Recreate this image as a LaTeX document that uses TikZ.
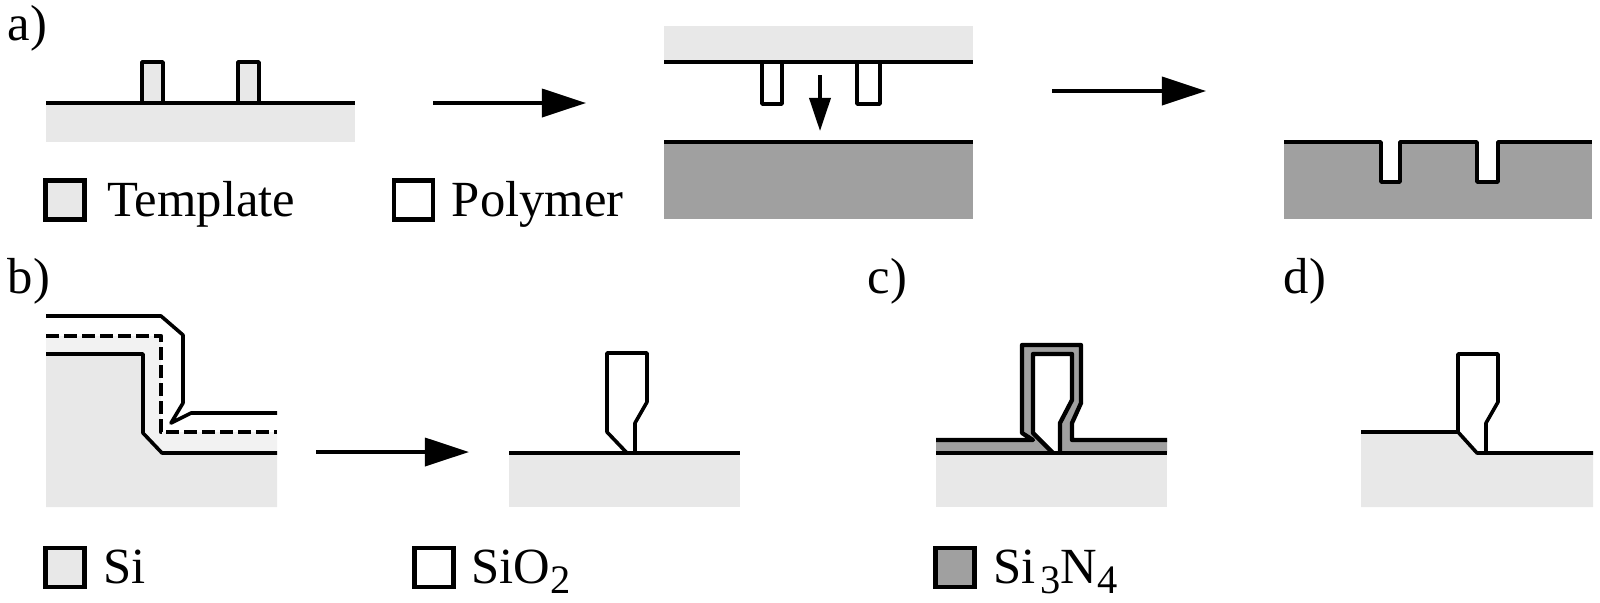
\documentclass[tikz,border=0pt]{standalone}
\usepackage{xcolor}
\usepackage{fontspec}
\setmainfont{Liberation Serif}
\usepackage{tikz}
\usetikzlibrary{positioning,arrows.meta}
\definecolor{silight}{HTML}{E8E8E8}
\definecolor{siband}{HTML}{F2F2F2}
\definecolor{nitride}{HTML}{A0A0A0}

\begin{document}
\begin{tikzpicture}[
    x=0.01cm, y=-0.01cm,
    edgeline/.style={line width=0.036cm, line join=round},
    thickline/.style={line width=0.043cm, line join=round},
    procarrow/.style={line width=0.036cm, -{Triangle[length=0.44cm, width=0.28cm]}},
    pressarrow/.style={line width=0.036cm, -{Triangle[length=0.33cm, width=0.21cm]}},
    swatch/.style={draw, line width=0.045cm, minimum width=0.39cm, minimum height=0.39cm,
                   inner sep=0pt},
    legend/.style={font=\fontsize{14.4}{16}\selectfont, inner sep=0pt,
                   text height=0.40cm, text depth=0.08cm},
    panel/.style={font=\fontsize{14.4}{16}\selectfont, inner sep=0pt, anchor=base west},
]
\useasboundingbox (0,0) rectangle (1600,602);

\node[panel] (la) at (7,40) {a)};
\node[panel] (lb) at (7,293) {b)};
\node[panel] (lc) at (867,293) {c)};
\node[panel] (ld) at (1283,293) {d)};

% a) template
\fill[silight] (46,103) rectangle (355,142);
\foreach \px in {142,238} {
  \draw[edgeline, fill=silight] (\px,103) -- (\px,62) -- (\px+21,62) -- (\px+21,103);
}
\draw[edgeline] (46,103) -- (355,103);

\node[swatch, fill=silight] (tmplbox) at (65,200) {};
\node[legend, right=0.20cm of tmplbox] (tmpltxt) {Template};
\node[swatch, fill=white] (polybox) at (413.5,200) {};
\node[legend, right=0.16cm of polybox] (polytxt) {Polymer};

\coordinate (a1s) at (433,103);
\coordinate (a1e) at (586,103);
\draw[procarrow] (a1s) -- (a1e);

% a) pressing
\fill[silight] (664,26) rectangle (973,62);
\foreach \px/\pw in {762/20,857/23} {
  \draw[edgeline, fill=white] (\px,62) -- (\px,104) -- (\px+\pw,104) -- (\px+\pw,62);
}
\draw[edgeline] (664,62) -- (973,62);
\fill[nitride] (664,142) rectangle (973,219);
\draw[edgeline] (664,142) -- (973,142);
\coordinate (ps) at (820,75);
\coordinate (pe) at (820,131);
\draw[pressarrow] (ps) -- (pe);

\coordinate (a2s) at (1052,91);
\coordinate (a2e) at (1206,91);
\draw[procarrow] (a2s) -- (a2e);

% a) imprinted
\fill[nitride] (1284,142) rectangle (1592,219);
\fill[white] (1381,142) rectangle (1400,182) (1477,142) rectangle (1498,182);
\draw[edgeline] (1284,142) -- (1381,142) -- (1381,182) -- (1400,182) -- (1400,142)
    -- (1477,142) -- (1477,182) -- (1498,182) -- (1498,142) -- (1592,142);

% b) deposition
\fill[silight] (46,354) -- (143,354) -- (143,433) -- (162,453) -- (277,453)
    -- (277,507) -- (46,507) -- cycle;
\fill[siband] (46,336) -- (161,336) -- (161,432) -- (277,432) -- (277,453)
    -- (162,453) -- (143,433) -- (143,354) -- (46,354) -- cycle;
\draw[edgeline] (46,316) -- (161,316) -- (183,335) -- (183,403) -- (171,423)
    -- (191,413) -- (277,413);
\draw[thickline, dash pattern=on 0.13cm off 0.05cm] (46,336) -- (161,336) -- (161,432) -- (277,432);
\draw[edgeline] (46,354) -- (143,354) -- (143,433) -- (162,453) -- (277,453);

\node[swatch, fill=silight] (sibox) at (65,567.5) {};
\node[legend, right=0.16cm of sibox] (sitxt) {Si};
\node[swatch, fill=white] (oxbox) at (434,567.5) {};
\node[legend, right=0.15cm of oxbox] (oxtxt)
    {SiO\raisebox{-0.10cm}{\fontsize{11.5}{13}\selectfont 2}};

\coordinate (b1s) at (316,452);
\coordinate (b1e) at (469,452);
\draw[procarrow] (b1s) -- (b1e);

% b) tip on silicon
\fill[silight] (509,453) rectangle (740,507);
\draw[edgeline, fill=white] (627,453) -- (607,432) -- (607,353) -- (647,353) -- (647,402)
    -- (635,423) -- (635,453);
\draw[edgeline] (509,453) -- (740,453);

% c) nitride
\fill[silight] (936,453) rectangle (1167,507);
\fill[nitride] (936,440) -- (1033,440) -- (1022,433) -- (1022,345) -- (1081,345) -- (1081,403)
    -- (1072,423) -- (1072,440) -- (1167,440) -- (1167,453) -- (936,453) -- cycle;
\draw[thickline, fill=white] (1053,453) -- (1033,433) -- (1033,354) -- (1072,354) -- (1072,400)
    -- (1060,423) -- (1060,453);
\draw[thickline] (936,440) -- (1033,440) -- (1022,433) -- (1022,345) -- (1081,345) -- (1081,403)
    -- (1072,423) -- (1072,440) -- (1167,440);
\draw[thickline] (936,453) -- (1167,453);

\node[swatch, fill=nitride] (nibox) at (955,567.5) {};
\node[legend, right=0.16cm of nibox] (nitxt)
    {Si\hspace{0.05cm}\raisebox{-0.10cm}{\fontsize{11.5}{13}\selectfont 3}N\raisebox{-0.10cm}{\fontsize{11.5}{13}\selectfont 4}};

% d) etched
\fill[silight] (1361,432) -- (1458,432) -- (1477,453) -- (1593,453) -- (1593,507)
    -- (1361,507) -- cycle;
\draw[edgeline, fill=white] (1458,432) -- (1458,354) -- (1498,354) -- (1498,402) -- (1486,423)
    -- (1486,453);
\draw[edgeline] (1361,432) -- (1458,432) -- (1477,453) -- (1593,453);
\end{tikzpicture}
\end{document}
